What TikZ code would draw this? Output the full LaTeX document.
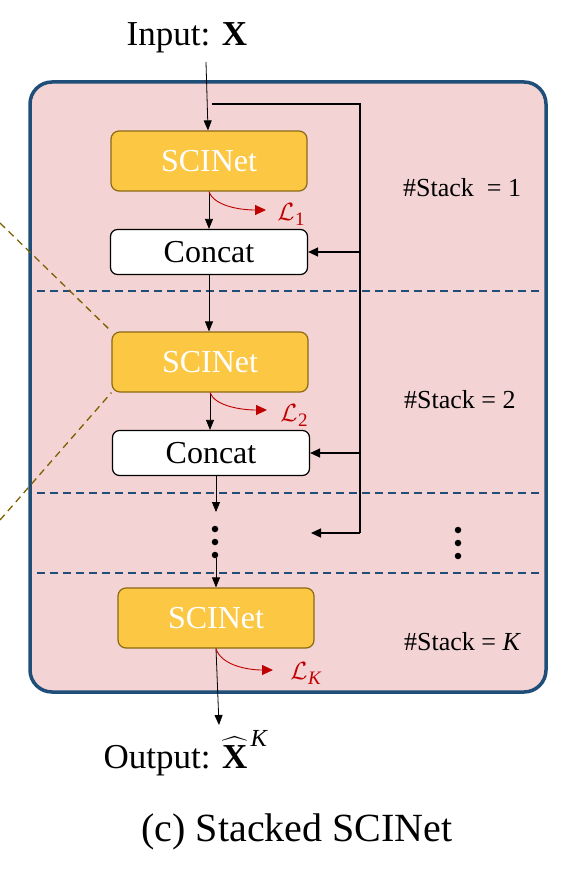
\documentclass[tikz,border=0pt]{standalone}
\usepackage{amsmath}
\usepackage{fontspec}
\setmainfont{Liberation Serif}
\usetikzlibrary{arrows.meta}
\definecolor{pinkbg}{RGB}{243,211,211}
\definecolor{boxblue}{RGB}{31,78,121}
\definecolor{scifill}{RGB}{252,199,66}
\definecolor{scidraw}{RGB}{140,105,20}
\definecolor{lossred}{RGB}{192,0,0}
\definecolor{zoombrown}{RGB}{127,96,0}
\newcommand{\losslab}[1]{$\mathcal{L}$\kern0.5pt\raisebox{-5pt}{\fontsize{19}{20}\selectfont #1}}
\tikzset{
  scibox/.style={draw=scidraw, line width=1.2pt, fill=scifill, rounded corners=8pt,
    minimum width=196pt, minimum height=60pt, inner sep=0pt, text=white,
    font=\fontsize{32}{36}\selectfont},
  catbox/.style={draw=black, line width=1.2pt, fill=white, rounded corners=7pt,
    minimum width=197pt, minimum height=45pt, inner sep=0pt,
    font=\fontsize{32}{36}\selectfont},
  flow/.style={line width=0.8pt, -{Triangle[length=10pt,width=8pt]}},
  fb/.style={line width=1.3pt},
  fbarrow/.style={line width=1.3pt, -{Triangle[length=10pt,width=9pt]}},
  loss/.style={draw=lossred, line width=0.9pt, -{Triangle[length=11pt,width=10pt]}},
  losslabel/.style={text=lossred, font=\fontsize{28}{30}\selectfont, inner sep=0pt},
  sep/.style={draw=boxblue, line width=1.1pt, dash pattern=on 8pt off 5pt},
  zoomline/.style={draw=zoombrown, line width=1.3pt, dash pattern=on 7pt off 5pt},
  stacklabel/.style={font=\fontsize{26}{30}\selectfont, inner sep=0pt},
  bigtext/.style={font=\fontsize{35}{40}\selectfont, inner sep=0pt},
  dotmark/.style={fill=black, circle, inner sep=0pt, minimum size=6.5pt}
}
\begin{document}
\begin{tikzpicture}[x=1pt,y=-1pt]
\useasboundingbox (0,0) rectangle (584,888);
% outer box
\draw[draw=boxblue, line width=3.5pt, fill=pinkbg, rounded corners=22pt] (30,82) rectangle (546,692);
% separators
\draw[sep] (37,291) -- (543,291);
\draw[sep] (37,493) -- (543,493);
\draw[sep] (37,573) -- (543,573);
% nodes
\node[bigtext, anchor=base] (in) at (187,46) {Input: \textbf{X}};
\node[scibox] (s1) at (209,161) {SCINet};
\node[catbox] (c1) at (209,252) {Concat};
\node[scibox] (s2) at (210,362) {SCINet};
\node[catbox] (c2) at (211,453) {Concat};
\node[scibox] (sk) at (216,618) {SCINet};
\node[bigtext, anchor=base] (out) at (186,768) {Output: $\widehat{\text{\textbf{X}}}^{\kern3pt\text{\textit{K}}}$};
\node[font=\fontsize{40}{44}\selectfont, inner sep=0pt] (cap) at (297,832) {(c) Stacked SCINet};
% stack labels
\node[stacklabel, anchor=west] (l1) at (403,188) {\#Stack\ \ = 1};
\node[stacklabel, anchor=west] (l2) at (404,400) {\#Stack = 2};
\node[stacklabel, anchor=west] (lk) at (404,642) {\#Stack = \textit{K}};
% dots
\node[dotmark] (d1) at (215,529) {};
\node[dotmark] (d2) at (215,542) {};
\node[dotmark] (d3) at (215,555) {};
\node[dotmark] (e1) at (458,530) {};
\node[dotmark] (e2) at (458,543) {};
\node[dotmark] (e3) at (458,556) {};
% coordinates
\coordinate (inStart) at (206,62);
\coordinate (fbStart) at (212,104);
\coordinate (fbCorner) at (360,104);
\coordinate (fbEnd) at (360,533);
\coordinate (fbTip) at (311,533);
\coordinate (dotsTop) at (216,512);
\coordinate (outTip) at (219,725);
% main flow
\draw[flow] (inStart) -- (s1.north -| 208,0);
\draw[flow] (s1.south) -- (c1.north);
\draw[flow] (c1.south) -- (s2.north -| c1.south);
\draw[flow] (s2.south) -- (c2.north -| s2.south);
\draw[flow] (c2.south -| dotsTop) -- (dotsTop);
\draw[flow] (d3.south -| sk.north) -- (sk.north);
\draw[flow] (sk.south) -- (outTip);
% feedback
\draw[fb] (fbStart) -- (fbCorner) -- (fbEnd);
\draw[fbarrow] (fbCorner |- c1.east) -- (c1.east);
\draw[fbarrow] (fbCorner |- c2.east) -- (c2.east);
\draw[fbarrow] (fbEnd) -- (fbTip);
% losses
\node[losslabel] (L1) at (291,214) {\losslab{1}};
\node[losslabel] (L2) at (294,415) {\losslab{2}};
\node[losslabel] (LK) at (306,673) {\losslab{\textit{K}}};
\draw[loss] (s1.south) .. controls (214,206) and (240,210) .. (266,210);
\draw[loss] (s2.south) .. controls (215,406) and (241,410) .. (267,410);
\draw[loss] (sk.south) .. controls (221,665) and (247,670) .. (273,670);
% zoom lines
\coordinate (z1) at (0,223);
\coordinate (z2) at (0,520);
\draw[zoomline] (z1) -- (s2.north west);
\draw[zoomline] (z2) -- (s2.south west);
\end{tikzpicture}
\end{document}
